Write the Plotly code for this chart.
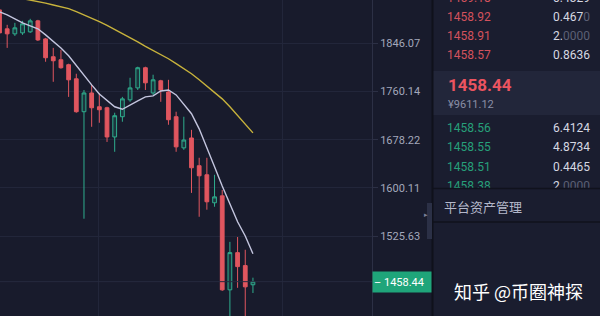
import math
import plotly.graph_objects as go

W, H = 600, 316

# ---------------- data ----------------
opens = [1908.0, 1872.7, 1863.4, 1865.2, 1867.1, 1887.5, 1854.1, 1821.7, 1816.3, 1807.4,
         1782.4, 1725.3, 1757.6, 1733.8, 1732.1, 1682.8, 1716.8, 1745.7, 1766.4, 1802.0,
         1757.6, 1778.9, 1759.3, 1716.8, 1664.7, 1681.1, 1635.6, 1621.0, 1576.8, 1587.6,
         1446.7, 1500.9, 1481.8, 1454.0]
highs = [1911.7, 1880.1, 1883.8, 1887.5, 1891.3, 1889.4, 1856.0, 1837.7, 1834.1, 1809.2,
         1791.3, 1762.8, 1771.7, 1757.6, 1733.8, 1723.6, 1750.8, 1784.2, 1803.8, 1803.8,
         1789.6, 1780.6, 1780.6, 1725.3, 1716.8, 1694.7, 1648.5, 1648.5, 1621.0, 1596.9,
         1517.0, 1524.3, 1505.2, 1464.2]
lows = [1859.6, 1837.7, 1859.6, 1861.5, 1865.2, 1850.3, 1812.7, 1777.1, 1800.3, 1750.8,
        1723.6, 1552.1, 1699.8, 1706.6, 1674.5, 1658.3, 1708.3, 1742.3, 1762.8, 1762.8,
        1754.2, 1742.3, 1703.2, 1658.3, 1661.5, 1592.2, 1555.1, 1566.0, 1570.6, 1445.2,
        1395.0, 1449.6, 1395.0, 1442.2]
closes = [1865.2, 1863.4, 1874.5, 1882.0, 1887.5, 1852.2, 1819.9, 1814.5, 1802.0, 1780.6,
          1725.3, 1757.6, 1732.1, 1728.7, 1682.8, 1718.5, 1747.4, 1766.4, 1802.0, 1775.3,
          1780.6, 1762.8, 1711.7, 1666.4, 1677.7, 1632.3, 1619.4, 1578.3, 1586.0, 1446.7,
          1500.9, 1480.3, 1451.0, 1458.44]
ma_fast = [1904.3, 1898.7, 1891.3, 1883.8, 1878.2, 1872.7, 1861.5, 1850.4, 1837.7, 1823.4,
           1805.6, 1787.8, 1771.7, 1755.9, 1744.0, 1733.8, 1729.5, 1737.2, 1744.0, 1750.8,
           1752.5, 1761.0, 1762.8, 1754.2, 1738.9, 1721.9, 1696.4, 1666.4, 1634.0, 1603.2,
           1573.7, 1547.4, 1525.8, 1499.4]
ma_slow = [1937.8, 1935.0, 1932.2, 1929.4, 1927.2, 1924.0, 1921.0, 1917.3, 1914.0, 1910.4,
           1904.7, 1898.7, 1892.2, 1886.2, 1879.2, 1871.7, 1864.1, 1856.0, 1848.5, 1840.4,
           1833.2, 1825.6, 1818.1, 1809.2, 1800.3, 1791.3, 1780.6, 1770.0, 1759.3, 1747.4,
           1733.8, 1718.5, 1704.0, 1689.6]
price_ticks = [1846.07, 1760.14, 1678.22, 1600.11, 1525.63]
price_tick_labels = ["1846.07", "1760.14", "1678.22", "1600.11", "1525.63"]
last_price = 1458.44
last_price_cny = "¥9611.12"
ask_prices = ["1459.18", "1458.92", "1458.91", "1458.57"]
ask_amounts = ["0.4329", "0.4670", "2.0000", "0.8636"]
bid_prices = ["1458.56", "1458.55", "1458.51", "1458.38"]
bid_amounts = ["6.4124", "4.8734", "0.4465", "2.0000"]
panel_title = "平台资产管理"
watermark = "知乎 @币圈神探"

# ---------------- styling ----------------
BG = "#181b2c"
PANEL = "#1a1d2f"
GRID = "#22263a"
RED = "#e0565f"
GREEN = "#2fae8e"
TXT = "#a3a8bb"
NUM = "Roboto"
CJK = "Noto Sans CJK SC"


def px(x):
    return x / W


def py(y):
    return 1 - y / H


def dim_zeros(s):
    t = s.rstrip("0")
    z = len(s) - len(t)
    if z == 0:
        return s
    return t + "<span style='color:#5c6075'>" + "0" * z + "</span>"


x = list(range(len(opens)))
step = 7.68                    # px per candle
x0 = 0.5 / step
x1 = x0 + 372 / step

fig = go.Figure()

fig.add_trace(go.Scatter(x=[x0, x1], y=[last_price, last_price], mode="lines",
                         line=dict(color="#262a3e", width=1), hoverinfo="skip"))

fig.add_trace(go.Candlestick(
    x=x, open=opens, high=highs, low=lows, close=closes,
    increasing=dict(line=dict(color=GREEN, width=1), fillcolor="rgba(47,174,142,0.18)"),
    decreasing=dict(line=dict(color=RED, width=1), fillcolor=RED),
    whiskerwidth=0, hoverinfo="skip"))

fig.add_trace(go.Scatter(x=x, y=ma_slow, mode="lines",
                         line=dict(color="#c8b33c", width=1.4), hoverinfo="skip"))
fig.add_trace(go.Scatter(x=x, y=ma_fast, mode="lines",
                         line=dict(color="#c4c6df", width=1.4), hoverinfo="skip"))

# order book rows (clipped panel axes, pixel-like units)
ask_y = [-1, 18.3, 36.7, 56]
bid_y = [129, 148, 168, 186.5]
fig.add_trace(go.Scatter(x=[12] * 4, y=ask_y, mode="text", text=ask_prices,
                         textposition="middle right", cliponaxis=True,
                         textfont=dict(family=NUM, size=12, color="#d4525d"),
                         xaxis="x2", yaxis="y2", hoverinfo="skip"))
fig.add_trace(go.Scatter(x=[12] * 4, y=bid_y, mode="text", text=bid_prices,
                         textposition="middle right", cliponaxis=True,
                         textfont=dict(family=NUM, size=12, color="#27a07a"),
                         xaxis="x2", yaxis="y2", hoverinfo="skip"))
fig.add_trace(go.Scatter(x=[155] * 8, y=ask_y + bid_y, mode="text",
                         text=[dim_zeros(a) for a in ask_amounts + bid_amounts],
                         textposition="middle left", cliponaxis=True,
                         textfont=dict(family=NUM, size=12, color="#d6d8e2"),
                         xaxis="x2", yaxis="y2", hoverinfo="skip"))

shapes = [
    dict(type="rect", xref="paper", yref="paper", x0=px(433), x1=1, y0=0, y1=1,
         fillcolor=PANEL, line=dict(width=0), layer="below"),
    dict(type="rect", xref="paper", yref="paper", x0=px(433), x1=1, y0=py(115), y1=py(71),
         fillcolor="#22263a", line=dict(width=0), layer="below"),
    dict(type="line", xref="paper", yref="paper", x0=px(433), x1=1, y0=py(188.5), y1=py(188.5),
         line=dict(color="#10121d", width=1.5)),
    dict(type="line", xref="paper", yref="paper", x0=px(433), x1=1, y0=py(222), y1=py(222),
         line=dict(color="#10121d", width=1.5)),
    dict(type="line", xref="paper", yref="paper", x0=px(432.5), x1=px(432.5), y0=0, y1=1,
         line=dict(color="#0f111b", width=2)),
    dict(type="rect", xref="paper", yref="paper", x0=px(427), x1=px(432), y0=py(239), y1=py(203),
         fillcolor="#2b3046", line=dict(width=0)),
]

annotations = [
    dict(xref="paper", yref="y", x=px(372), y=math.log10(last_price), xanchor="left",
         yanchor="middle", width=56, height=18, align="left", bgcolor="#1fa57a",
         text="– 1458.44", showarrow=False,
         font=dict(family=NUM, size=11, color="#ffffff")),
    dict(xref="paper", yref="paper", x=px(429.5), y=py(221), text="▸", showarrow=False,
         font=dict(size=7, color="#7b8098")),
    dict(xref="paper", yref="paper", x=px(446), y=py(85), xanchor="left", yanchor="middle",
         text="<b>%.2f</b>" % last_price, showarrow=False,
         font=dict(family=NUM, size=17, color="#ec5460")),
    dict(xref="paper", yref="paper", x=px(446), y=py(104), xanchor="left", yanchor="middle",
         text=last_price_cny, showarrow=False,
         font=dict(family=NUM, size=11, color="#8a8fa6")),
    dict(xref="paper", yref="paper", x=px(442), y=py(206), xanchor="left", yanchor="middle",
         text=panel_title, showarrow=False,
         font=dict(family=CJK, size=13, color="#b4b8ca")),
    dict(xref="paper", yref="paper", x=px(452), y=py(291), xanchor="left", yanchor="middle",
         text=watermark, showarrow=False,
         font=dict(family=CJK, size=18, color="#ffffff")),
]

fig.update_layout(
    width=W, height=H, margin=dict(l=0, r=0, t=0, b=0),
    paper_bgcolor=BG, plot_bgcolor=BG, showlegend=False, hovermode=False,
    xaxis=dict(domain=[0, 372 / W], range=[x0, x1], showticklabels=False,
               tickvals=[12.83, 36.91], showgrid=True, gridcolor=GRID, gridwidth=1,
               zeroline=False, showline=False, ticks="", rangeslider=dict(visible=False),
               fixedrange=True),
    yaxis=dict(domain=[0, 1], type="log",
               range=[math.log10(1409.76), math.log10(1926.83)],
               side="right", tickvals=price_ticks, ticktext=price_tick_labels,
               showgrid=True, gridcolor=GRID, gridwidth=1, zeroline=False,
               showline=True, linecolor="#2c3045", linewidth=1,
               ticks="outside", ticklen=5, tickcolor="#2c3045",
               tickfont=dict(family=NUM, size=11, color=TXT), fixedrange=True),
    xaxis2=dict(domain=[435 / W, 1], range=[0, 165], visible=False, fixedrange=True),
    yaxis2=dict(domain=[1 - 188 / H, 1], range=[188, 0], visible=False, fixedrange=True,
                anchor="x2"),
    shapes=shapes, annotations=annotations,
)
fig.data[4].update(xaxis="x2", yaxis="y2")

fig.write_html("out.html")
